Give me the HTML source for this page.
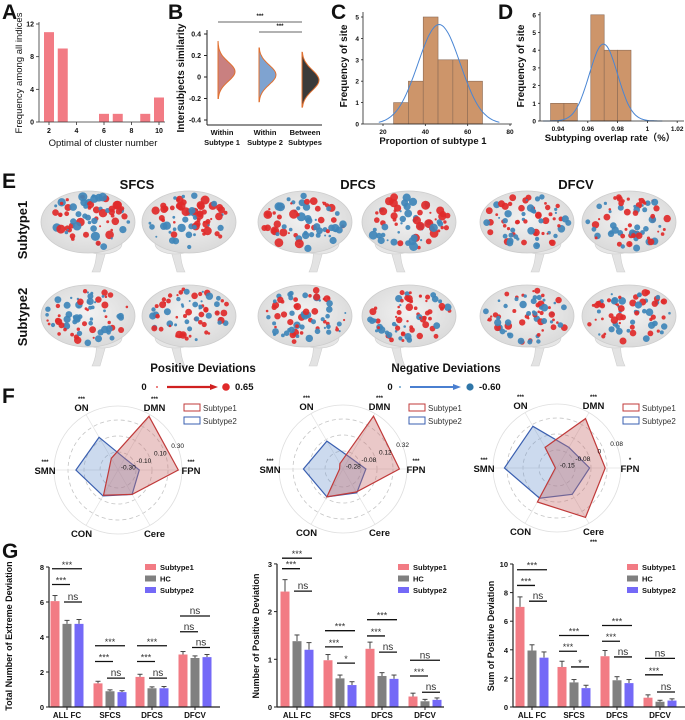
<!DOCTYPE html>
<html><head><meta charset="utf-8">
<style>
html,body{margin:0;padding:0;background:#fff;}
svg{display:block;font-family:"Liberation Sans",Arial,sans-serif;}
</style></head>
<body>
<svg id="fig" width="685" height="720" viewBox="0 0 685 720" xmlns="http://www.w3.org/2000/svg">
<defs>
<radialGradient id="brainGrad" cx="50%" cy="45%" r="60%">
<stop offset="0%" stop-color="#f2f2f2"/><stop offset="100%" stop-color="#d8d8d8"/>
</radialGradient>
</defs>
</svg>
<script>
// ---------- DATA ----------
const aCategories=[2,3,6,7,9,10];
const aValues=[11,9,1,1,1,3];
const aXTicks=[2,4,6,8,10];
const aYTicks=[0,4,8,12];

const bGroups=["Within|Subtype 1","Within|Subtype 2","Between|Subtypes"];
const bMeans=[0.05,0.02,-0.03];
const bSds=[0.09,0.09,0.095];
const bMins=[-0.2,-0.23,-0.28];
const bMaxs=[0.33,0.27,0.23];
const bYTicks=[0.4,0.2,0,-0.2,-0.4];

const cBinStarts=[25,32,39,46,53,60];
const cBinCounts=[1,2,5,3,3,2];
const cXTicks=[20,40,60,80];
const cYTicks=[0,1,2,3,4,5];
const cFit=[46.5,10,4.65]; // mean, sd, peak

const dBinStarts=[0.935,0.944,0.962,0.971,0.98];
const dBinCounts=[1,1,6,4,4];
const dXTicks=[0.94,0.96,0.98,1,1.02];
const dYTicks=[0,1,2,3,4,5,6];
const dFit=[0.9705,0.0095,4.35];

const radarAxes=["ON","DMN","FPN","Cere","CON","SMN"];
const radar1Sub1=[-0.26,0.30,0.28,-0.09,-0.08,-0.31];
const radar1Sub2=[0.02,-0.26,-0.17,-0.09,-0.07,0.07];
const radar1Ticks=["-0.30","-0.10","0.10","0.30"];
const radar1Stars=["***","***","***","","",  "***"];
const radar2Sub1=[-0.30,0.29,0.24,-0.08,-0.02,-0.33];
const radar2Sub2=[-0.02,-0.22,-0.12,-0.07,-0.02,0.06];
const radar2Ticks=["-0.28","-0.08","0.12","0.32"];
const radar2Stars=["***","***","***","","","***"];
const radar3Sub1=[-0.07,0.08,0.04,0.08,0.0,-0.17];
const radar3Sub2=[0.04,-0.07,-0.03,-0.04,-0.02,0.06];
const radar3Ticks=["-0.15","-0.08","0","0.08"];
const radar3Stars=["***","***","*","***","","***"];

const gCategories=["ALL FC","SFCS","DFCS","DFCV"];
const gSeries=["Subtype1","HC","Subtype2"];
const g1S1=[6.05,1.35,1.72,3.0], g1HC=[4.75,0.9,1.07,2.8], g1S2=[4.75,0.85,1.07,2.85];
const g1E1=[0.32,0.12,0.15,0.17], g1EHC=[0.2,0.08,0.08,0.12], g1E2=[0.25,0.08,0.1,0.15];
const g1Ticks=[0,2,4,6,8];
const g1Sig=[[7.9,7.0,6.0],[3.5,2.6,1.65],[3.5,2.6,1.65],[5.2,4.3,3.4]];
const g1Lab=[["***","***","ns"],["***","***","ns"],["***","***","ns"],["ns","ns","ns"]];
const g2S1=[2.42,0.98,1.22,0.22], g2HC=[1.38,0.6,0.65,0.12], g2S2=[1.2,0.46,0.59,0.15];
const g2E1=[0.25,0.12,0.14,0.07], g2EHC=[0.13,0.07,0.07,0.04], g2E2=[0.15,0.07,0.08,0.04];
const g2Ticks=[0,1,2,3];
const g2Sig=[[3.12,2.9,2.43],[1.6,1.26,0.92],[1.83,1.49,1.15],[0.98,0.65,0.31]];
const g2Lab=[["***","***","ns"],["***","***","*"],["***","***","ns"],["ns","***","ns"]];
const g3S1=[7.0,2.8,3.55,0.65], g3HC=[3.95,1.72,1.87,0.37], g3S2=[3.45,1.32,1.67,0.45];
const g3E1=[0.7,0.4,0.4,0.2], g3EHC=[0.4,0.2,0.25,0.1], g3E2=[0.4,0.2,0.25,0.12];
const g3Ticks=[0,2,4,6,8,10];
const g3Sig=[[9.6,8.5,7.4],[5.0,3.9,2.8],[5.7,4.6,3.5],[3.4,2.25,1.05]];
const g3Lab=[["***","***","ns"],["***","***","*"],["***","***","ns"],["ns","***","ns"]];

// ---------- HELPERS ----------
const NS="http://www.w3.org/2000/svg";
const svg=document.getElementById('fig');
function mk(tag,parent,attrs){const e=document.createElementNS(NS,tag);for(const k in attrs)e.setAttribute(k,attrs[k]);(parent||svg).appendChild(e);return e;}
function grp(name,parent){const g=mk('g',parent,{});


return g;}
function txt(parent,name,x,y,s,size,opts){opts=opts||{};const t=mk('text',parent,{x:x,y:y,'font-size':size,fill:opts.fill||'#111','text-anchor':opts.anchor||'middle','font-weight':opts.weight||'bold'});
if(opts.rot!==undefined)t.setAttribute('transform','rotate('+opts.rot+' '+x+' '+y+')');
t.textContent=s;


return t;}
function line(parent,name,x1,y1,x2,y2,stroke,w,dash){const l=mk('line',parent,{x1:x1,y1:y1,x2:x2,y2:y2,stroke:stroke||'#222','stroke-width':w||1});if(dash)l.setAttribute('stroke-dasharray',dash);


return l;}

// ---------- PANEL A ----------
(function(){const g=grp('panel-a');
txt(g,'panel-label-a',2,19,'A',21,{anchor:'start'});
const xs=v=>49+(v-2)*13.75, ys=v=>122-v*98/12;
aValues.forEach((v,i)=>{const r=mk('rect',g,{x:xs(aCategories[i])-5,y:ys(v),width:10,height:ys(0)-ys(v),fill:'#f27b84'});

});
line(g,'y-axis',39,22,39,122,'#333',0.8);line(g,'x-axis',39,122,165,122,'#333',0.8);
aXTicks.forEach(t=>{line(g,'x-tick',xs(t),122,xs(t),125,'#333',0.8);txt(g,'x-tick-label',xs(t),133,t,7);});
aYTicks.forEach(t=>{line(g,'y-tick',36,ys(t),39,ys(t),'#333',0.8);txt(g,'y-tick-label',34,ys(t)+2.5,t,7,{anchor:'end'});});
txt(g,'x-axis-title',103,146,'Optimal of cluster number',9.5,{weight:'normal'});
txt(g,'y-axis-title',22,73,'Frequency among all indices',9.5,{rot:-90,weight:'normal'});
})();

// ---------- PANEL B ----------
(function(){const g=grp('panel-b');
txt(g,'panel-label-b',168,19,'B',21,{anchor:'start'});
const ys=v=>77-v*107.5; const xc=[218,259,302]; const cols=['#c98080','#7fa3d0','#3a3a3a'];
const lx=[222,265,305];
bMeans.forEach((m,i)=>{let pts=[];for(let k=0;k<=40;k++){const v=bMins[i]+(bMaxs[i]-bMins[i])*k/40;const w=17*Math.exp(-Math.pow(v-m,2)/(2*bSds[i]*bSds[i]));pts.push((xc[i]+w).toFixed(1)+','+ys(v).toFixed(1));}
const p=mk('polygon',g,{points:xc[i]+','+ys(bMins[i])+' '+pts.join(' ')+' '+xc[i]+','+ys(bMaxs[i]),fill:cols[i],stroke:'#e07030','stroke-width':1});


const lab=bGroups[i].split('|');txt(g,'x-label',lx[i],135,lab[0],7.5);txt(g,'x-label',lx[i],145,lab[1],7.5);});
line(g,'y-axis',207,30,207,125,'#222',1);line(g,'x-axis',207,125,322,125,'#222',1);
bYTicks.forEach(t=>{line(g,'y-tick',204,ys(t),207,ys(t),'#222',1);txt(g,'y-tick-label',201,ys(t)+2.5,t,7,{anchor:'end'});});
txt(g,'y-axis-title',184,78,'Intersubjects similarity',10,{rot:-90});
line(g,'sig-line',218,22,302,22,'#333',0.8);txt(g,'sig-stars',260,18,'***',6);
line(g,'sig-line',259,32,302,32,'#333',0.8);txt(g,'sig-stars',280,28,'***',6);
})();

// ---------- HIST helper ----------
function hist(name,letter,lx,xs,ys,starts,width,counts,xt,yt,fit,x0,x1,ax,yb,title,yt2,tx,tfmt,curveRange){const g=grp(name);
txt(g,'panel-label-'+letter.toLowerCase(),lx,19,letter,21,{anchor:'start'});
counts.forEach((c,i)=>{const r=mk('rect',g,{x:xs(starts[i]),y:ys(c),width:xs(starts[i]+width)-xs(starts[i]),height:ys(0)-ys(c),fill:'#cd956a',stroke:'#8a6a55','stroke-width':0.6});

});
let d='';for(let k=0;k<=80;k++){const v=curveRange[0]+(curveRange[1]-curveRange[0])*k/80;const y=fit[2]*Math.exp(-Math.pow(v-fit[0],2)/(2*fit[1]*fit[1]));d+=(k?'L':'M')+xs(v).toFixed(1)+','+ys(y).toFixed(1);}
const p=mk('path',g,{d:d,fill:'none',stroke:'#4a86d4','stroke-width':1});


line(g,'y-axis',ax,12,ax,yb,'#222',0.8);line(g,'x-axis',ax,yb,x1,yb,'#222',0.8);
xt.forEach(t=>{line(g,'x-tick',xs(t),yb,xs(t),yb+2,'#222',0.8);txt(g,'x-tick-label',xs(t),yb+10,tfmt(t),6.5);});
yt.forEach(t=>{line(g,'y-tick',ax-2,ys(t),ax,ys(t),'#222',0.8);txt(g,'y-tick-label',ax-4,ys(t)+2.5,t,6.5,{anchor:'end'});});
txt(g,'x-axis-title',tx,yb+20,title,9.5);
txt(g,'y-axis-title',ax-16,yt2,'Frequency of site',10,{rot:-90});}
hist('panel-c','C',331,v=>383+(v-20)*2.117,v=>124-v*21.4,cBinStarts,7,cBinCounts,cXTicks,cYTicks,cFit,0,512,363,124,'Proportion of subtype 1',66,433,t=>t,[18,75]);
hist('panel-d','D',498,v=>558+(v-0.94)*1490,v=>121-v*17.7,dBinStarts,0.009,dBinCounts,dXTicks,dYTicks,dFit,0,684,540,121,'Subtyping overlap rate（%）',66,610,t=>t,[0.93,1.01]);
document.querySelectorAll('#fig text').forEach(t=>{if(t.textContent.includes('（'))t.setAttribute('font-family','"Liberation Sans","Noto Sans CJK SC",sans-serif');});

// ---------- PANEL E (brains) ----------
(function(){const g=grp('panel-e');
txt(g,'panel-label-e',2,188,'E',21,{anchor:'start'});
[['SFCS',137],['DFCS',358],['DFCV',576]].forEach(a=>txt(g,'column-title-'+a[0].toLowerCase(),a[1],189,a[0],13));
txt(g,'row-title-subtype1',27,230,'Subtype1',13,{rot:-90});
txt(g,'row-title-subtype2',27,317,'Subtype2',13,{rot:-90});
const cx=[88,189,305,409,527,629]; const cy=[222,316];
let seed=7;const rnd=()=>{seed=(seed*16807)%2147483647;return seed/2147483647;};
cy.forEach((yy,ri)=>cx.forEach((xx,ci)=>{const bg=grp('brain-r'+(ri+1)+'-c'+(ci+1),g);const flip=ci%2===1?-1:1;
mk('path',bg,{d:`M${xx+flip*8},${yy+20} q${flip*2},18 ${flip*-4},30 l${flip*8},0 q${flip*4},-14 ${flip*8},-28 z`,fill:'#e3e3e3',stroke:'#cfcfcf','stroke-width':0.6});
mk('ellipse',bg,{cx:xx+flip*14,cy:yy+22,rx:20,ry:10,fill:'#e6e6e6',stroke:'#d0d0d0','stroke-width':0.6});
mk('ellipse',bg,{cx:xx,cy:yy,rx:47,ry:31,fill:'url(#brainGrad)',stroke:'#cccccc','stroke-width':0.8});
const n=70;for(let k=0;k<n;k++){const a=rnd()*Math.PI*2,r=Math.sqrt(rnd());const px=xx+Math.cos(a)*r*42,py=yy+Math.sin(a)*r*27;
let red;const side=(px-xx)*flip;
if(ci<4){red=ri===0?(side<-10||(side>8&&py<yy)):(rnd()<0.55);if(rnd()<0.25)red=!red;}else red=rnd()<0.5;
const rad=1+rnd()*(ci<4&&ri===0?3.6:2.8);
const c=mk('circle',bg,{cx:px.toFixed(1),cy:py.toFixed(1),r:rad.toFixed(1),fill:red?'#e02a2a':'#3f86b8',opacity:0.92});

}
}));
txt(g,'positive-legend-title',203,372,'Positive Deviations',11.5);
txt(g,'positive-legend-min',144,390,'0',9.5);mk('circle',g,{cx:157,cy:387,r:0.9,fill:'#e02a2a'});
line(g,'positive-arrow',167,387,210,387,'#d02020',2.2);mk('polygon',g,{points:'210,384 218,387 210,390',fill:'#d02020'});
mk('circle',g,{cx:226,cy:387,r:3.8,fill:'#e02a2a'});txt(g,'positive-legend-max',235,390,'0.65',9.5,{anchor:'start'});
txt(g,'negative-legend-title',446,372,'Negative Deviations',11.5);
txt(g,'negative-legend-min',390,390,'0',9.5);mk('circle',g,{cx:400,cy:387,r:0.9,fill:'#3f86b8'});
line(g,'negative-arrow',410,387,453,387,'#4a7fd0',2);mk('polygon',g,{points:'453,384 461,387 453,390',fill:'#4a7fd0'});
mk('circle',g,{cx:470,cy:387,r:3.6,fill:'#2f76a8'});txt(g,'negative-legend-max',479,390,'-0.60',9.5,{anchor:'start'});
})();

// ---------- PANEL F (radars) ----------
function radar(name,cx,cy,s1,s2,ticks,stars,r0,k,v0){const g=grp(name);
[64,50,34,18].forEach((r,i)=>{const c=mk('circle',g,{cx:cx,cy:cy,r:r,fill:'none',stroke:i?'#c4c4c4':'#dedede','stroke-width':0.8});if(i)c.setAttribute('stroke-dasharray','4,3');

});
const ang=i=>(-120+i*60)*Math.PI/180;
radarAxes.forEach((a,i)=>{line(g,'radar-spoke',cx,cy,cx+64*Math.cos(ang(i)),cy+64*Math.sin(ang(i)),'#e2e2e2',0.7);
const lx=cx+73*Math.cos(ang(i)),ly=cy+73*Math.sin(ang(i))+4;txt(g,'axis-label-'+a.toLowerCase(),lx,ly,a,9.5);
if(stars[i])txt(g,'axis-stars',lx,(i===3?ly+9:ly-10),stars[i],6);});
const rs=v=>r0+(v-v0)*k;
[[s2,'#3a5fb0','rgba(110,150,205,0.35)','subtype2'],[s1,'#c03a3a','rgba(200,110,110,0.38)','subtype1']].forEach(d=>{
const pts=d[0].map((v,i)=>(cx+rs(v)*Math.cos(ang(i))).toFixed(1)+','+(cy+rs(v)*Math.sin(ang(i))).toFixed(1)).join(' ');
const p=mk('polygon',g,{points:pts,fill:d[2],stroke:d[1],'stroke-width':1.2});

});
const ta=-24*Math.PI/180;ticks.forEach((t,i)=>{const r=[8,25,43,62][i];txt(g,'radar-tick-label',cx+r*Math.cos(ta)+3,cy+r*Math.sin(ta)+3,t,6.5,{weight:'normal'});});
const lg=cx+66;[['Subtype1','#c03a3a',0],['Subtype2','#3a5fb0',13]].forEach(e=>{const r=mk('rect',g,{x:lg,y:404+e[2],width:16,height:7,fill:'#fff',stroke:e[1],'stroke-width':1});


txt(g,'legend-entry-'+e[0].toLowerCase(),lg+19,411+e[2],e[0],8,{anchor:'start',weight:'normal',fill:'#333'});});}
txt(svg,'panel-label-f',2,403,'F',21,{anchor:'start'});
radar('radar-sfcs',118,470,radar1Sub1,radar1Sub2,radar1Ticks,radar1Stars,10,86.7,-0.30);
radar('radar-dfcs',343,469,radar2Sub1,radar2Sub2,radar2Ticks,radar2Stars,8,93,-0.28);
radar('radar-dfcv',557,468,radar3Sub1,radar3Sub2,radar3Ticks,radar3Stars,6,222,-0.15);

// ---------- PANEL G ----------
txt(svg,'panel-label-g',2,558,'G',21,{anchor:'start'});
function barChart(name,ax,xEnd,ymax,pxPerUnit,ticks,centers,s1,hc,s2,e1,ehc,e2,sig,lab,title,lgx,ylx){const g=grp(name);
const ys=v=>707-v*pxPerUnit;const cols=['#f27b84','#808080','#7469f7'];
[s1,hc,s2].forEach((ser,si)=>ser.forEach((v,ci)=>{const x=centers[ci]+(si-1)*12;const errs=[e1,ehc,e2][si];
line(g,'error-bar',x,ys(v),x,ys(v+errs[ci]),'#444',1);line(g,'error-cap',x-2.5,ys(v+errs[ci]),x+2.5,ys(v+errs[ci]),'#444',1);
const r=mk('rect',g,{x:x-4.5,y:ys(v),width:9,height:ys(0)-ys(v),fill:cols[si]});

}));
line(g,'y-axis',ax,ys(ticks[ticks.length-1]),ax,707,'#222',1.2);line(g,'x-axis',ax,707,xEnd,707,'#222',1.2);
ticks.forEach(t=>{line(g,'y-tick',ax-3,ys(t),ax,ys(t),'#222',1);txt(g,'y-tick-label',ax-5,ys(t)+3,t,7.5,{anchor:'end'});});
centers.forEach((c,ci)=>{line(g,'x-tick',c,707,c,710,'#222',1);txt(g,'x-tick-label',c,718,gCategories[ci],8);
const pairs=[[0,2],[0,1],[1,2]];pairs.forEach((p,pi)=>{const y=ys(sig[ci][pi]);const xa=c+(p[0]-1)*12-3,xb=c+(p[1]-1)*12+3;
line(g,'significance-bracket',xa,y,xb,y,'#111',1.3);const L=lab[ci][pi];txt(g,'significance-label',(xa+xb)/2,L==='ns'?y-2:y-1,L,L==='ns'?10:9,{weight:'normal',fill:'#333'});});});
gSeries.forEach((s,si)=>{const r=mk('rect',g,{x:lgx,y:564+si*11.5,width:11,height:6,fill:cols[si]});


txt(g,'legend-entry-'+s.toLowerCase(),lgx+15,570+si*11.5,s,7.5,{anchor:'start'});});
txt(g,'y-axis-title',ylx,636,title,9,{rot:-90});}
barChart('chart-total-extreme',49,220,8,17.5,g1Ticks,[67,110,152,195],g1S1,g1HC,g1S2,g1E1,g1EHC,g1E2,g1Sig,g1Lab,'Total Number of Extreme Deviation',145,12);
barChart('chart-number-positive',277,444,3,47.7,g2Ticks,[297,340,382,425],g2S1,g2HC,g2S2,g2E1,g2EHC,g2E2,g2Sig,g2Lab,'Number of Positive Deviation',398,259);
barChart('chart-sum-positive',513,685,10,14.3,g3Ticks,[532,574,617,660],g3S1,g3HC,g3S2,g3E1,g3EHC,g3E2,g3Sig,g3Lab,'Sum of Positive Deviation',627,494);
</script>
</body></html>
